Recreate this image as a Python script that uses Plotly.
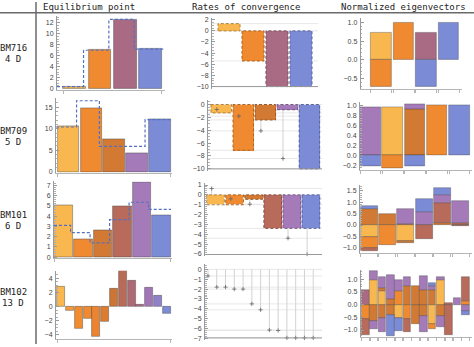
import plotly.graph_objects as go

W, H = 474, 347

# ---------------- data ----------------
ROW_NAMES = ['BM716', 'BM709', 'BM101', 'BM102']
ROW_DIMS = ['4 D', '5 D', '6 D', '13 D']
COL_TITLES = ['Equilibrium point', 'Rates of convergence', 'Normalized eigenvectors']

PAL = {'Y': '#F9B750', 'O': '#F08A30', 'D': '#D27A33', 'B': '#B86B5B',
       'M': '#A96B83', 'P': '#A57AB8', 'L': '#7B8BD6'}

COLORS_4D = ['Y', 'O', 'M', 'L']
COLORS_5D = ['Y', 'O', 'D', 'P', 'L']
COLORS_6D = ['Y', 'O', 'D', 'B', 'P', 'L']
COLORS_13D = ['#F9B750', '#F59A3A', '#F28C30', '#F08A30', '#EA8430', '#DC7C31', '#CC7535',
              '#B96B57', '#AD6A74', '#A86C88', '#A176B6', '#8E81C8', '#7B8BD6']

# Equilibrium point (bars) and reference step line
EQ_4D = [0.3, 7.0, 12.6, 7.2]
EQ_4D_REF = [0.4, 7.0, 12.6, 7.2]
EQ_5D = [10.6, 14.7, 7.6, 4.2, 12.1]
EQ_5D_REF = [10.4, 16.5, 5.9, 5.9, 12.1]
EQ_6D = [5.0, 1.7, 2.6, 4.95, 7.25, 4.05]
EQ_6D_REF = [3.1, 2.4, 1.4, 3.65, 5.35, 4.65]
EQ_13D = [2.8, -0.6, -3.15, -1.75, -4.3, -2.1, 2.55, 5.1, 3.7, 0.2, 2.7, 1.5, -1.0]

# Rates of convergence
RATES_4D = [1.3, -5.4, -10.0, -10.0]
RATES_5D = [-1.3, -7.1, -2.4, -0.8, -10.0]
RATES_6D = [-1.0, -1.0, -0.45, -3.4, -3.4, -3.4]
PTS_4D_X, PTS_4D = [], []
PTS_5D_X = [1, 2, 3, 4]
PTS_5D = [-0.77, -1.8, -4.1, -8.4]
PTS_6D_X = [1, 2, 3, 5, 6]
PTS_6D = [0.65, -0.4, -0.95, -4.4, -6.05]
PTS_13D_X = list(range(1, 14))
PTS_13D = [-0.67, -1.8, -1.8, -2.0, -2.0, -3.5, -4.1, -6.15, -6.2, -6.95, -6.95, -6.95, -6.95]

# Normalized eigenvectors: per bar, stacked (component colour, value)
EIG_4D = [[('Y', 0.71), ('O', -0.71)], [('O', 1.0)], [('M', 0.71), ('L', -0.71)], [('L', 1.0)]]
EIG_5D = [[('P', 0.97), ('L', -0.22)], [('Y', 0.96), ('O', -0.26)],
          [('D', 0.93), ('P', 0.09), ('L', -0.22)], [('O', 1.0)], [('L', 1.0)]]
EIG_6D = [[('D', 0.68), ('L', 0.14), ('Y', -0.52), ('O', -0.5), ('B', -0.13)],
          [('D', 0.5), ('O', -0.88)],
          [('B', 0.05), ('P', 0.65), ('Y', -0.72), ('D', -0.06)],
          [('P', 0.56), ('L', 0.57), ('B', -0.59)],
          [('D', 0.09), ('B', 0.86), ('P', 0.36), ('L', 0.3)],
          [('B', 0.09), ('P', 0.97), ('B', -0.06)]]
EIG_13D = [[('M', 0.58), ('O', -0.56), ('B', -0.64)],
           [('Y', 0.97), ('P', 0.33), ('D', -0.65), ('P', -0.32)],
           [('Y', 0.52), ('D', 0.13), ('P', 0.45), ('D', -0.52), ('P', -0.58)],
           [('D', 0.2), ('P', 0.97), ('D', -0.4), ('L', -0.83)],
           [('O', 0.52), ('P', 0.45), ('Y', -0.52), ('L', -0.52)],
           [('D', 0.71), ('P', 0.39), ('O', -0.58), ('B', -0.52)],
           [('D', 0.71), ('D', -0.78)],
           [('D', 0.58), ('P', 0.55), ('D', -0.45), ('P', -0.65)],
           [('D', 0.58), ('P', 0.13), ('L', 0.13), ('Y', -0.78), ('O', -0.19)],
           [('Y', 0.97), ('P', 0.13), ('D', -0.45), ('P', -0.45)],
           [('B', 0.05), ('B', -1.2)],
           [('P', 0.26)],
           [('O', 0.13), ('B', 0.97), ('P', -0.25), ('L', -0.15)]]

# ---------------- layout geometry (pixels) ----------------
GEOM = {
    1: dict(x=(57, 165), y=(14, 89), xr=(0.3, 4.57), yr=(-0.18, 13.26), dt=2, mn=0.5, fmt=''),
    2: dict(x=(212, 318), y=(16, 88), xr=(0.29, 4.71), yr=(-10.39, 2.35), dt=2, mn=0.5, fmt=''),
    3: dict(x=(360.7, 462), y=(16, 88), xr=(0.09, 4.59), yr=(-0.77, 1.12), dt=0.5, mn=0.1, fmt='.1f'),
    4: dict(x=(56, 172), y=(97.7, 173), xr=(0.45, 5.53), yr=(-0.16, 17.07), dt=5, mn=1, fmt=''),
    5: dict(x=(208, 322), y=(99, 171), xr=(0.40, 5.57), yr=(-10.26, 0.77), dt=2, mn=0.5, fmt=''),
    6: dict(x=(360, 472), y=(101.7, 170.5), xr=(0.53, 5.57), yr=(-0.291, 1.067), dt=0.2, mn=0.05, fmt='.1f'),
    7: dict(x=(54, 172), y=(182, 260), xr=(0.5, 6.55), yr=(-0.1, 7.38), dt=1, mn=0.2, fmt=''),
    8: dict(x=(205, 322), y=(184, 258), xr=(0.45, 6.58), yr=(-6.23, 1.17), dt=1, mn=0.2, fmt=''),
    9: dict(x=(360, 472), y=(185.7, 255), xr=(0.5, 6.62), yr=(-1.237, 1.75), dt=0.5, mn=0.1, fmt='.1f'),
    10: dict(x=(56, 172), y=(272.7, 341.5), xr=(0.4, 13.6), yr=(-4.51, 5.04), dt=2, mn=0.5, fmt=''),
    11: dict(x=(205, 322), y=(266, 343), xr=(0.66, 14.0), yr=(-7.17, 0.53), dt=1, mn=0.2, fmt=''),
    12: dict(x=(360.7, 472), y=(272, 340), xr=(0.42, 13.78), yr=(-1.279, 1.357), dt=0.5, mn=0.1, fmt='.1f'),
}

fig = go.Figure()
shapes = []
annotations = []
AX = dict(family='Liberation Sans, Arial, sans-serif', size=7, color='#444')


def refs(k):
    return ('x', 'y') if k == 1 else (f'x{k}', f'y{k}')


def setup_axes(k, xticks, show_xline=True):
    g = GEOM[k]
    xn = 'xaxis' if k == 1 else f'xaxis{k}'
    yn = 'yaxis' if k == 1 else f'yaxis{k}'
    xr, yr = refs(k)
    fig.layout[xn] = dict(domain=[g['x'][0] / W, g['x'][1] / W], range=list(g['xr']), anchor=yr,
                          showgrid=False, zeroline=False, showline=show_xline, linecolor='#b5b5b5',
                          linewidth=1, ticks='outside', ticklen=3, tickcolor='#b5b5b5',
                          tickmode='array', tickvals=xticks, showticklabels=False, fixedrange=True)
    fig.layout[yn] = dict(domain=[1 - g['y'][1] / H, 1 - g['y'][0] / H], range=list(g['yr']), anchor=xr,
                          showgrid=False, zeroline=False, showline=True, linecolor='#9a9a9a', linewidth=1,
                          ticks='inside', ticklen=3, tickcolor='#9a9a9a', dtick=g['dt'], tick0=0,
                          tickformat=g['fmt'], tickfont=AX, ticklabelstandoff=1,
                          minor=dict(dtick=g['mn'], ticks='inside', ticklen=1.5, tickcolor='#b0b0b0'),
                          fixedrange=True)


def eq_panel(k, vals, cols, ref, width):
    xr, yr = refs(k)
    n = len(vals)
    xs = list(range(1, n + 1))
    fig.add_trace(go.Bar(x=xs, y=vals, width=width, xaxis=xr, yaxis=yr, showlegend=False,
                         marker=dict(color=cols, line=dict(color='rgba(70,70,70,0.55)', width=0.8))))
    if ref:
        sx = [GEOM[k]['xr'][0]] + [i + 0.35 for i in xs[:-1]] + [n + 0.5]
        sy = list(ref) + [ref[-1]]
        fig.add_trace(go.Scatter(x=sx, y=sy, mode='lines', xaxis=xr, yaxis=yr, showlegend=False,
                                 line=dict(shape='hv', dash='3px,2px', color='#5470C4', width=1.2)))
    setup_axes(k, [1 - width / 2, n + width / 2])


def darker(hx, f=0.72):
    r, g, b = int(hx[1:3], 16), int(hx[3:5], 16), int(hx[5:7], 16)
    return f'rgb({int(r * f)},{int(g * f)},{int(b * f)})'


def rates_panel(k, vals, cols, px, pts, width, offset):
    xr, yr = refs(k)
    g = GEOM[k]
    n = len(vals) if vals else len(pts)
    for v in sorted(set(list(vals) + list(pts))):
        shapes.append(dict(type='line', xref=xr, yref=yr, x0=g['xr'][0], x1=g['xr'][1], y0=v, y1=v,
                           line=dict(color='#e8e8e8', width=1), layer='below'))
    shapes.append(dict(type='line', xref=xr, yref=yr, x0=g['xr'][0], x1=g['xr'][1], y0=0, y1=0,
                       line=dict(color='#e6e6e6', width=1), layer='below'))
    for x, v in zip(px, pts):
        shapes.append(dict(type='line', xref=xr, yref=yr, x0=x + offset, x1=x + offset, y0=0, y1=v,
                           line=dict(color='#d2d2d2', width=1), layer='below'))
    if vals:
        xs = list(range(1, n + 1))
        fig.add_trace(go.Bar(x=xs, y=vals, width=width, xaxis=xr, yaxis=yr, showlegend=False,
                             marker=dict(color=cols, line=dict(width=0))))
        for i, v, c in zip(xs, vals, cols):
            fig.add_trace(go.Scatter(x=[i - width / 2, i - width / 2, i + width / 2, i + width / 2, i - width / 2],
                                     y=[0, v, v, 0, 0], mode='lines', xaxis=xr, yaxis=yr, showlegend=False,
                                     line=dict(color=darker(c), width=1, dash='3px,2px')))
    lo = min(list(vals) + list(pts))
    shapes.append(dict(type='line', xref=xr, yref=yr, x0=g['xr'][0], x1=g['xr'][1], y0=lo, y1=lo,
                       line=dict(color='#9a9a9a', width=1)))
    if pts:
        fig.add_trace(go.Scatter(x=[x + offset for x in px], y=pts, mode='markers', xaxis=xr, yaxis=yr,
                                 showlegend=False,
                                 marker=dict(symbol='cross-thin', size=3, line=dict(width=0.8, color='#666'))))
    setup_axes(k, [], show_xline=False)


def eig_panel(k, bars, width):
    xr, yr = refs(k)
    m = max(len(b) for b in bars)
    for j in range(m):
        xs, ys, cs = [], [], []
        for i, b in enumerate(bars, 1):
            if j < len(b):
                key, v = b[j]
                xs.append(i)
                ys.append(v)
                cs.append(PAL[key])
        fig.add_trace(go.Bar(x=xs, y=ys, width=width, xaxis=xr, yaxis=yr, showlegend=False,
                             marker=dict(color=cs, line=dict(color='rgba(60,60,60,0.5)', width=0.7))))
    n = len(bars)
    ticks = []
    for i in range(1, n + 1):
        ticks += [i - width / 2, i + width / 2]
    setup_axes(k, ticks)


eq_panel(1, EQ_4D, [PAL[c] for c in COLORS_4D], EQ_4D_REF, 0.9)
rates_panel(2, RATES_4D, [PAL[c] for c in COLORS_4D], PTS_4D_X, PTS_4D, 0.92, -0.2)
eig_panel(3, EIG_4D, 0.93)

eq_panel(4, EQ_5D, [PAL[c] for c in COLORS_5D], EQ_5D_REF, 0.95)
rates_panel(5, RATES_5D, [PAL[c] for c in COLORS_5D], PTS_5D_X, PTS_5D, 0.93, -0.2)
eig_panel(6, EIG_5D, 0.93)

eq_panel(7, EQ_6D, [PAL[c] for c in COLORS_6D], EQ_6D_REF, 0.95)
rates_panel(8, RATES_6D, [PAL[c] for c in COLORS_6D], PTS_6D_X, PTS_6D, 0.93, -0.2)
eig_panel(9, EIG_6D, 0.93)

eq_panel(10, EQ_13D, COLORS_13D, None, 0.92)
rates_panel(11, [], [], PTS_13D_X, PTS_13D, 0.9, 0.0)
eig_panel(12, EIG_13D, 0.92)

# ---------------- frame, titles, row labels ----------------
shapes.append(dict(type='line', xref='paper', yref='paper', x0=0, x1=1, y0=1 - 11 / H, y1=1 - 11 / H,
                   line=dict(color='#6a6a6a', width=1.5)))
shapes.append(dict(type='line', xref='paper', yref='paper', x0=36 / W, x1=36 / W, y0=0, y1=1,
                   line=dict(color='#6a6a6a', width=1.5)))

MONO = dict(family='DejaVu Sans Mono, Liberation Mono, monospace', size=9, color='#222')
for cx, t in zip([89, 246, 403], COL_TITLES):
    annotations.append(dict(x=cx / W, y=1 - 5 / H, xref='paper', yref='paper', text=t, showarrow=False,
                            xanchor='center', yanchor='middle', font=MONO))
for cy, nm, dm in zip([47, 131, 216, 294], ROW_NAMES, ROW_DIMS):
    annotations.append(dict(x=13 / W, y=1 - cy / H, xref='paper', yref='paper', text=nm, showarrow=False,
                            xanchor='center', yanchor='middle', font=MONO))
    annotations.append(dict(x=13 / W, y=1 - (cy + 11) / H, xref='paper', yref='paper', text=dm,
                            showarrow=False, xanchor='center', yanchor='middle', font=MONO))

fig.update_layout(width=W, height=H, margin=dict(l=0, r=0, t=0, b=0), paper_bgcolor='white',
                  plot_bgcolor='white', barmode='relative', bargap=0, showlegend=False,
                  shapes=shapes, annotations=annotations)

fig.write_html('out.html')
